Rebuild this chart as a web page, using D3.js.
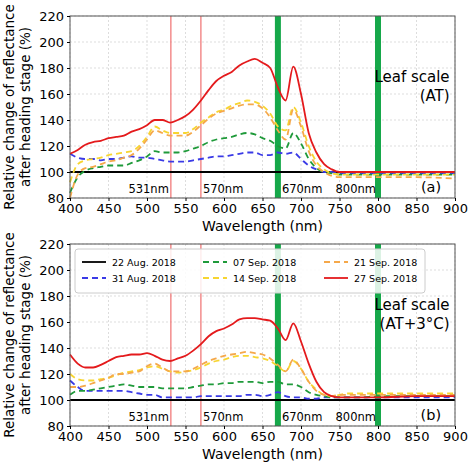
<!DOCTYPE html>
<html><head><meta charset="utf-8">
<script src="https://cdn.jsdelivr.net/npm/d3@7"></script>
<style>body{margin:0;background:#fff}text{font-family:"DejaVu Sans",sans-serif}</style>
</head><body><svg width="474" height="465"></svg>
<script>
const wl = [400,410,420,430,440,450,460,470,480,490,500,510,520,530,540,550,560,570,580,590,600,610,620,630,640,650,660,670,680,690,700,710,720,730,740,750,760,780,800,850,900];
// panel (a) AT
const aAug31 = [114,111,110,110,109,110,110,111,112,111,111,110,109,108,108,108,109,110,111,112,112,113,114,115,115,113,113,115,114,115,110,105,102,100,100,99,99,99,99,99,99];
const aSep07 = [84,96,101,103,104,105,105,105,107,109,112,116,115,115,115,116,118,120,123,125,126,127,129,130,129,126,124,120,118,130,122,110,103,100,99,98,98,98,98,98,98];
const aSep14 = [92,106,109,110,111,113,114,115,116,120,127,135,132,130,130,130,133,138,142,146,148,151,153,155,154,151,145,135,132,150,138,120,108,102,99,98,98,98,98,98,98];
const aSep21 = [80,98,103,104,106,108,109,111,113,118,125,132,130,128,128,128,131,136,141,145,147,149,151,152,152,149,142,132,125,148,135,116,105,100,97,96,96,96,96,96,95];
const aSep27 = [114,117,121,123,124,126,127,128,131,133,136,140,140,138,140,143,148,155,163,170,174,177,182,185,187,184,180,165,155,181,160,130,115,106,102,100,100,100,100,100,100];
// panel (b) AT+3°C
const bAug31 = [115,110,107,107,107,107,107,107,106,105,104,104,102,102,102,102,102,103,103,103,103,103,103,104,104,103,104,106,103,102,102,101,101,102,102,102,102,102,102,102,102];
const bSep07 = [104,107,107,108,109,110,111,112,111,110,110,110,109,109,109,109,110,111,112,112,113,113,114,114,114,113,114,114,112,112,110,106,104,103,102,102,102,102,103,103,103];
const bSep14 = [120,116,115,115,116,117,119,121,122,123,125,126,124,122,121,122,123,125,128,130,131,133,134,134,133,132,130,126,122,130,124,114,108,104,103,104,105,105,105,105,105];
const bSep21 = [110,110,111,113,115,117,120,120,121,122,126,128,125,122,122,122,124,127,130,132,134,135,136,137,136,135,132,127,122,131,124,114,107,104,103,104,104,104,104,104,104];
const bSep27 = [135,128,125,125,127,130,133,134,135,135,136,134,131,130,132,134,138,143,149,153,155,158,162,163,163,162,161,155,146,159,145,128,114,106,103,102,102,102,102,103,103];
const baseline = wl.map(() => 100);

const dates = ["22 Aug. 2018","31 Aug. 2018","07 Sep. 2018","14 Sep. 2018","21 Sep. 2018","27 Sep. 2018"];
const colors = ["#000000","#3a3ae6","#1f9a3a","#f7d531","#f5a84a","#e41a1c"];
const dashed = [false,true,true,true,true,false];
const yTicks = [80,100,120,140,160,180,200,220];
const xTicks = [400,450,500,550,600,650,700,750,800,850,900];
const redLines = [531,570];
const greenBands = [670,800];
const bandLabels = [["531nm",531,"end"],["570nm",570,"start"],["670nm",670,"start"],["800nm",800,"end"]];

const svg = d3.select("svg");
const x = d3.scaleLinear().domain([400,900]).range([70,455]);

function panel(top, series, title, tag) {
  const y = d3.scaleLinear().domain([80,220]).range([top+182, top]);
  const g = svg.append("g");
  g.selectAll(".gx").data(xTicks).enter().append("line")
    .attr("x1", d => x(d)).attr("x2", d => x(d)).attr("y1", y(80)).attr("y2", y(220))
    .attr("stroke", "#ddd").attr("stroke-dasharray", "2,2");
  g.selectAll(".gy").data(yTicks).enter().append("line")
    .attr("x1", x(400)).attr("x2", x(900)).attr("y1", d => y(d)).attr("y2", d => y(d))
    .attr("stroke", "#ddd").attr("stroke-dasharray", "2,2");
  g.selectAll(".rl").data(redLines).enter().append("line")
    .attr("x1", d => x(d)).attr("x2", d => x(d)).attr("y1", y(80)).attr("y2", y(220))
    .attr("stroke", "#f07070").attr("stroke-width", 1.2);
  g.selectAll(".gb").data(greenBands).enter().append("rect")
    .attr("x", d => x(d) - 3).attr("width", 6).attr("y", y(220)).attr("height", y(80) - y(220))
    .attr("fill", "#16a84a");
  const line = d3.line().x((d, i) => x(wl[i])).y(d => y(d)).curve(d3.curveMonotoneX);
  series.forEach((s, i) => {
    g.append("path").attr("d", line(s)).attr("fill", "none")
      .attr("stroke", colors[i]).attr("stroke-width", i === 0 ? 2 : 1.8)
      .attr("stroke-dasharray", dashed[i] ? "6,4" : null);
  });
  g.selectAll(".bl").data(bandLabels).enter().append("text")
    .attr("x", d => x(d[1]) + (d[2] === "end" ? -2 : (d[1] === 670 ? 4 : 2)))
    .attr("y", y(84)).attr("text-anchor", d => d[2])
    .attr("font-size", 11.5).text(d => d[0]);
  g.append("text").attr("x", x(882)).attr("y", y(85)).attr("text-anchor", "end")
    .attr("font-size", 14.5).text(tag);
  title.forEach((t, i) => g.append("text").attr("x", x(893)).attr("y", y(169) + i * 19)
    .attr("text-anchor", "end").attr("font-size", 15).text(t));
  g.append("rect").attr("x", x(400)).attr("y", y(220)).attr("width", x(900) - x(400))
    .attr("height", y(80) - y(220)).attr("fill", "none").attr("stroke", "#555");
  const ax = g.append("g").attr("transform", `translate(0,${y(80)})`)
    .call(d3.axisBottom(x).tickValues(xTicks).tickSize(3));
  const ay = g.append("g").attr("transform", `translate(${x(400)},0)`)
    .call(d3.axisLeft(y).tickValues(yTicks).tickSize(3));
  [ax, ay].forEach(a => { a.select(".domain").remove();
    a.selectAll("text").attr("font-size", 13).attr("font-family", "DejaVu Sans"); });
  g.append("text").attr("x", (x(400) + x(900)) / 2).attr("y", y(80) + 33)
    .attr("text-anchor", "middle").attr("font-size", 14).text("Wavelength (nm)");
  const cy = (y(80) + y(220)) / 2;
  g.append("text").attr("transform", `translate(14,${cy}) rotate(-90)`)
    .attr("text-anchor", "middle").attr("font-size", 13.5).text("Relative change of reflectance");
  g.append("text").attr("transform", `translate(30,${cy}) rotate(-90)`)
    .attr("text-anchor", "middle").attr("font-size", 13.5).text("after heading stage (%)");
  return y;
}

panel(16, [baseline, aAug31, aSep07, aSep14, aSep21, aSep27], ["Leaf scale", "(AT)"], "(a)");
panel(244, [baseline, bAug31, bSep07, bSep14, bSep21, bSep27], ["Leaf scale", "(AT+3°C)"], "(b)");

// legend
const lg = svg.append("g");
lg.append("rect").attr("x", 75).attr("y", 249).attr("width", 350).attr("height", 44)
  .attr("fill", "#fff").attr("fill-opacity", 0.85).attr("stroke", "#ccc").attr("rx", 3);
dates.forEach((dt, i) => {
  const col = Math.floor(i / 2), row = i % 2;
  const lx = 82 + col * 121, ly = 262 + row * 16;
  lg.append("line").attr("x1", lx).attr("x2", lx + 24).attr("y1", ly).attr("y2", ly)
    .attr("stroke", colors[i]).attr("stroke-width", 1.8).attr("stroke-dasharray", dashed[i] ? "6,4" : null);
  lg.append("text").attr("x", lx + 30).attr("y", ly + 4).attr("font-size", 9.5).text(dt);
});
</script></body></html>
